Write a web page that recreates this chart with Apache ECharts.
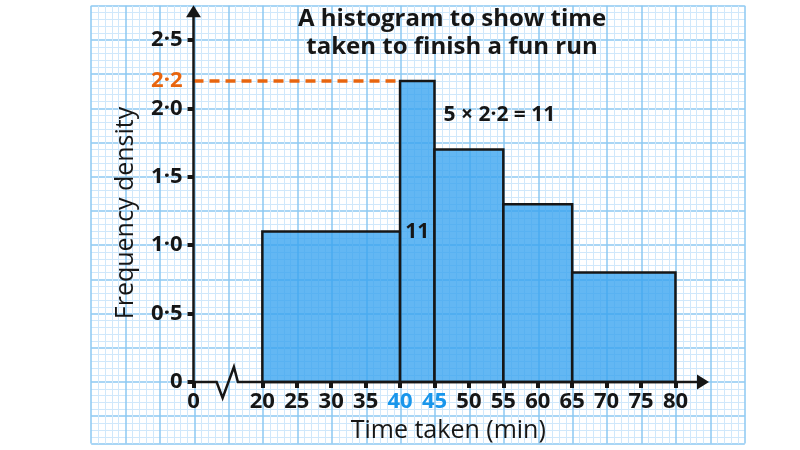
<!DOCTYPE html>
<html><head><meta charset="utf-8">
<script src="https://cdn.jsdelivr.net/npm/echarts@6/dist/echarts.min.js"></script>
<style>html,body{margin:0;padding:0;background:#fff}#c{width:800px;height:450px}</style>
</head><body><div id="c"></div>
<script>
// ---- data ----
const binStarts = [20, 40, 45, 55, 65];
const binEnds = [40, 45, 55, 65, 80];
const densities = [1.1, 2.2, 1.7, 1.3, 0.8];
const xTickValues = [0, 20, 25, 30, 35, 40, 45, 50, 55, 60, 65, 70, 75, 80];
const xHighlight = [40, 45];
const yTickValues = [0, 0.5, 1, 1.5, 2, 2.5];
const yHighlight = 2.2;
const highlightBar = 1;
const titleLines = ['A histogram to show time', 'taken to finish a fun run'];
const xName = 'Time taken (min)';
const yName = 'Frequency density';

// ---- styles ----
const FONT = '"Open Sans", sans-serif';
const INK = '#161616';
const BLUE = '#1996eb';
const ORANGE = '#e8650f';

function fmt(v) { return String(Math.round(v * 100) / 100).replace('.', '\u00b7'); }
function fmt1(v) { return v === 0 ? '0' : (Math.round(v * 10) / 10).toFixed(1).replace('.', '\u00b7'); }

const chart = echarts.init(document.getElementById('c'), null, {renderer: 'canvas'});

const option = {
  backgroundColor: '#ffffff',
  animation: false,
  grid: [
    {left: 193.5, right: 97, top: 11.3, bottom: 68, containLabel: false, outerBoundsMode: 'none'},
    {left: 91.2, top: 5.8, width: 653.6, height: 437.8, containLabel: false, outerBoundsMode: 'none'}
  ],
  xAxis: [
    {
      type: 'value', gridIndex: 0, min: 0, max: 84, z: 5,
      breaks: [{start: 0, end: 20, gap: 10}],
      breakArea: {show: false, itemStyle: {color: 'rgba(0,0,0,0)', borderColor: 'rgba(0,0,0,0)', opacity: 0}},
      axisLine: {show: false},
      splitLine: {show: false},
      axisTick: {show: true, customValues: xTickValues, length: 6, lineStyle: {color: INK, width: 4}},
      axisLabel: {
        customValues: xTickValues, margin: 9,
        fontFamily: FONT, fontSize: 22, fontWeight: 'bold', color: INK,
        formatter: v => xHighlight.indexOf(v) >= 0 ? '{b|' + v + '}' : String(v),
        rich: {b: {color: BLUE, fontFamily: FONT, fontSize: 22, fontWeight: 'bold'}}
      },
      name: xName, nameLocation: 'middle', nameGap: 31,
      nameTextStyle: {fontFamily: FONT, fontSize: 25, color: INK}
    },
    {
      type: 'value', gridIndex: 1, min: 0, max: 95, interval: 5, z: 0,
      axisLine: {show: false}, axisTick: {show: false}, axisLabel: {show: false},
      splitLine: {show: true, lineStyle: {color: '#8cc8f2', width: 1.5}},
      minorTick: {show: false, splitNumber: 5},
      minorSplitLine: {show: true, lineStyle: {color: '#d0e8fb', width: 1}}
    }
  ],
  yAxis: [
    {
      type: 'value', gridIndex: 0, min: 0, max: 2.71, z: 5,
      axisLine: {show: true, symbol: ['none', 'triangle'], symbolSize: [15, 12], lineStyle: {color: INK, width: 2.5}},
      splitLine: {show: false},
      axisTick: {show: true, customValues: yTickValues, length: 6, lineStyle: {color: INK, width: 4}},
      axisLabel: {
        customValues: yTickValues.concat([yHighlight]), margin: 11,
        fontFamily: FONT, fontSize: 22, fontWeight: 'bold', color: INK,
        formatter: v => Math.abs(v - yHighlight) < 1e-9 ? '{h|' + fmt1(v) + '}' : fmt1(v),
        rich: {h: {color: ORANGE, fontFamily: FONT, fontSize: 22, fontWeight: 'bold'}}
      }
    },
    {
      type: 'value', gridIndex: 1, min: 0, max: 3.2, interval: 0.25, inverse: true, z: 0,
      axisLine: {show: false}, axisTick: {show: false}, axisLabel: {show: false},
      splitLine: {show: true, lineStyle: {color: '#8cc8f2', width: 1.5}},
      minorTick: {show: false, splitNumber: 5},
      minorSplitLine: {show: true, lineStyle: {color: '#d0e8fb', width: 1}}
    }
  ],
  series: [
    {
      type: 'line', xAxisIndex: 0, yAxisIndex: 0, z: 4,
      data: [[0, densities[highlightBar]], [binStarts[highlightBar], densities[highlightBar]]],
      symbol: 'none', silent: true,
      lineStyle: {color: ORANGE, width: 3.5, type: [10, 6]}
    },
    {
      type: 'custom', xAxisIndex: 0, yAxisIndex: 0, z: 6,
      data: binStarts.map((s, i) => [s, binEnds[i], densities[i]]),
      encode: {x: [0, 1], y: 2},
      renderItem: function (params, api) {
        const i = params.dataIndex;
        const s = api.value(0), e = api.value(1), d = api.value(2);
        const p1 = api.coord([s, d]), p2 = api.coord([e, 0]);
        const children = [{
          type: 'rect',
          shape: {x: p1[0], y: p1[1], width: p2[0] - p1[0], height: p2[1] - p1[1]},
          style: {fill: 'rgba(55,163,240,0.78)', stroke: INK, lineWidth: 2.5}
        }];
        if (i === highlightBar) {
          const w = e - s;
          const f = Math.round(w * d * 100) / 100;
          const c = api.coord([(s + e) / 2, d / 2]);
          children.push({type: 'text', x: c[0], y: c[1], style: {
            text: fmt(f), fill: INK, fontFamily: FONT, fontSize: 21, fontWeight: 'bold',
            align: 'center', verticalAlign: 'middle'}});
          const a = api.coord([e, (d + densities[i + 1]) / 2]);
          children.push({type: 'text', x: a[0] + 9, y: a[1], style: {
            text: w + ' \u00d7 ' + fmt(d) + ' = ' + fmt(f), fill: INK, fontFamily: FONT, fontSize: 21, fontWeight: 'bold',
            align: 'left', verticalAlign: 'middle'}});
        }
        return {type: 'group', children: children};
      }
    }
  ]
};
chart.setOption(option);

// x-axis line with break squiggle and arrow, plus title and y name
const x0 = chart.convertToPixel({xAxisIndex: 0}, 0);
const x20 = chart.convertToPixel({xAxisIndex: 0}, 20);
const xEnd = chart.convertToPixel({xAxisIndex: 0}, 84);
const y0 = chart.convertToPixel({yAxisIndex: 0}, 0);
const bw = x20 - x0;
chart.setOption({
  graphic: [
    {type: 'polyline', z: 10, shape: {points: [
      [x0, y0], [x0 + 0.336 * bw, y0], [x0 + 0.423 * bw, y0 + 16], [x0 + 0.587 * bw, y0 - 15],
      [x0 + 0.645 * bw, y0], [xEnd, y0]]},
      style: {stroke: INK, lineWidth: 2.5, fill: null, lineJoin: 'miter'}},
    {type: 'polygon', z: 10, shape: {points: [[xEnd + 6, y0], [xEnd - 6, y0 - 7.5], [xEnd - 6, y0 + 7.5]]},
      style: {fill: INK}},
    {type: 'text', z: 10, x: 452, y: 5, style: {
      text: titleLines.join('\n'), fill: INK, fontFamily: FONT, fontSize: 24, fontWeight: 'bold',
      lineHeight: 28, align: 'center', verticalAlign: 'top'}},
    {type: 'text', z: 10, x: 126, y: 213, rotation: Math.PI / 2, style: {
      text: yName, fill: INK, fontFamily: FONT, fontSize: 25,
      align: 'center', verticalAlign: 'middle'}}
  ]
});
</script>
</body></html>
